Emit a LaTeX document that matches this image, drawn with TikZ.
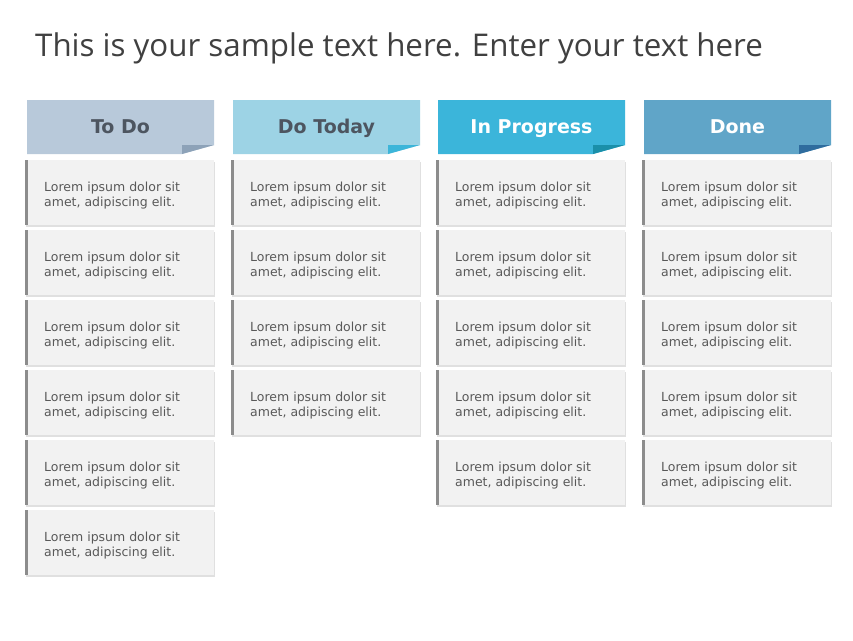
\documentclass[tikz,border=0pt]{standalone}
\usepackage{fontspec}
\setmainfont{DejaVu Sans}
\newfontfamily\titlefont{Open Sans}
\definecolor{hdA}{HTML}{B8C9DA}
\definecolor{fdA}{HTML}{8DA2B8}
\definecolor{hdB}{HTML}{9DD3E5}
\definecolor{fdB}{HTML}{3CB5D9}
\definecolor{hdC}{HTML}{3BB5DA}
\definecolor{fdC}{HTML}{1A8FA9}
\definecolor{hdD}{HTML}{60A5C8}
\definecolor{fdD}{HTML}{2F6C9E}
\definecolor{cardfill}{HTML}{F2F2F2}
\definecolor{cardedge}{HTML}{8C8C8C}
\definecolor{cardtext}{HTML}{595959}
\definecolor{hdtext}{HTML}{4D5560}
\definecolor{titletext}{HTML}{404040}
\tikzset{
  x=1pt, y=-1pt,
  cardtxt/.style={anchor=north west, inner sep=0pt, text=cardtext, font=\fontsize{12.5}{15}\selectfont, align=left},
  hdtxt/.style={inner sep=0pt, anchor=base, font=\fontsize{19}{22}\selectfont\bfseries},
}
\newcommand{\hdr}[5]{% x0, name, fill, fold, label+textcolor
  \fill[#3] (#1,100) -- (#1+187,100) -- (#1+187,145) -- (#1+155,154) -- (#1,154) -- cycle;
  \fill[#4] (#1+155,145) -- (#1+187,145) -- (#1+155,154) -- cycle;
  \node[hdtxt] (#2) at (#1+93.5,133.5) {#5};
}
\newcommand{\card}[3]{% x0, y0, name
  \fill[black!12] (#1+1,#2+1.5) rectangle (#1+190,#2+66.5);
  \fill[cardfill] (#1,#2) rectangle (#1+189,#2+65);
  \fill[cardedge] (#1,#2) rectangle (#1+2.5,#2+65);
  \node[cardtxt] (#3) at (#1+19,#2+22) {Lorem ipsum dolor sit\\amet, adipiscing elit.};
}
\begin{document}
\begin{tikzpicture}
\useasboundingbox (0,0) rectangle (853,640);
\fill[white] (0,0) rectangle (853,640);
\node[anchor=west, inner sep=0pt, text=titletext, font=\titlefont\fontsize{31.3}{36}\selectfont] (title) at (35,48) {This is your sample text here. Enter your text here};
\hdr{27}{hA}{hdA}{fdA}{\textcolor{hdtext}{To Do}}
\hdr{233}{hB}{hdB}{fdB}{\textcolor{hdtext}{Do Today}}
\hdr{438}{hC}{hdC}{fdC}{\textcolor{white}{In Progress}}
\hdr{644}{hD}{hdD}{fdD}{\textcolor{white}{Done}}
\foreach \i in {0,...,5} { \card{25}{160+70*\i}{cA\i} }
\foreach \i in {0,...,3} { \card{231}{160+70*\i}{cB\i} }
\foreach \i in {0,...,4} { \card{436}{160+70*\i}{cC\i} }
\foreach \i in {0,...,4} { \card{642}{160+70*\i}{cD\i} }
\end{tikzpicture}
\end{document}
